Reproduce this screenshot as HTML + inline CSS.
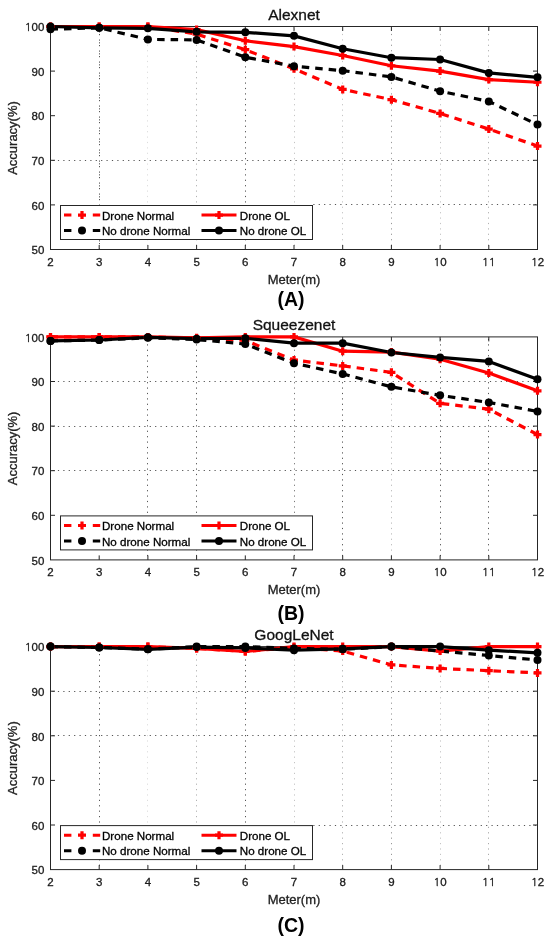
<!DOCTYPE html>
<html><head><meta charset="utf-8"><title>Accuracy vs Meter</title>
<style>html,body{margin:0;padding:0;background:#fff;}body{width:550px;height:948px;overflow:hidden;}svg{display:block;}text{font-family:'Liberation Sans', Arial, sans-serif;stroke:currentColor;stroke-width:0.3px;paint-order:stroke;}</style></head><body>
<svg width="550" height="948" viewBox="0 0 550 948">
<rect x="0" y="0" width="550" height="948" fill="#fff"/>
<path d="M99.5,28.5V249.5" stroke="#555" stroke-opacity="1" stroke-width="1" stroke-dasharray="1.2 1.55 1.2 1.55 1.2 4.3" fill="none"/>
<path d="M147.5,28.5V249.5" stroke="#555" stroke-opacity="0.2" stroke-width="1" stroke-dasharray="1.2 4.2" fill="none"/>
<path d="M196.5,28.5V249.5" stroke="#555" stroke-opacity="0.45" stroke-width="1" stroke-dasharray="1.2 4.2" fill="none"/>
<path d="M245.5,28.5V249.5" stroke="#555" stroke-opacity="1" stroke-width="1" stroke-dasharray="1.2 4.2" fill="none"/>
<path d="M294.5,28.5V249.5" stroke="#555" stroke-opacity="0.35" stroke-width="1" stroke-dasharray="1.2 4.2" fill="none"/>
<path d="M342.5,28.5V249.5" stroke="#555" stroke-opacity="0.35" stroke-width="1" stroke-dasharray="1.2 4.2" fill="none"/>
<path d="M391.5,28.5V249.5" stroke="#555" stroke-opacity="0.6" stroke-width="1" stroke-dasharray="1.2 4.2" fill="none"/>
<path d="M440.5,28.5V249.5" stroke="#555" stroke-opacity="0.35" stroke-width="1" stroke-dasharray="1.2 4.2" fill="none"/>
<path d="M488.5,28.5V249.5" stroke="#555" stroke-opacity="0.45" stroke-width="1" stroke-dasharray="1.2 4.2" fill="none"/>
<path d="M52.5,160.5H537.5" stroke="#555" stroke-opacity="1" stroke-width="1" stroke-dasharray="1.2 4.2" fill="none"/>
<path d="M313.3,204.5H537.5" stroke="#555" stroke-opacity="1" stroke-width="1" stroke-dasharray="1.2 4.2" fill="none"/>
<path d="M99.2,249.5v-4.5M99.2,26.5v4.5M147.9,249.5v-4.5M147.9,26.5v4.5M196.6,249.5v-4.5M196.6,26.5v4.5M245.3,249.5v-4.5M245.3,26.5v4.5M294,249.5v-4.5M294,26.5v4.5M342.7,249.5v-4.5M342.7,26.5v4.5M391.4,249.5v-4.5M391.4,26.5v4.5M440.1,249.5v-4.5M440.1,26.5v4.5M488.8,249.5v-4.5M488.8,26.5v4.5M50.5,71.1h4.5M537.5,71.1h-4.5M50.5,115.7h4.5M537.5,115.7h-4.5M50.5,160.3h4.5M537.5,160.3h-4.5M50.5,204.9h4.5M537.5,204.9h-4.5" stroke="#262626" stroke-width="1" fill="none"/>
<rect x="50.5" y="26.5" width="487" height="223" fill="none" stroke="#262626" stroke-width="1"/>
<polyline points="50.5,26.5 99.2,26.5 147.9,26.5 196.6,34.08 245.3,49.69 294,68.87 342.7,89.39 391.4,99.64 440.1,113.47 488.8,129.08 537.5,146.03" fill="none" stroke="#f00" stroke-width="3.2" stroke-dasharray="7.5 6" stroke-linejoin="round"/>
<polyline points="50.5,26.5 99.2,26.5 147.9,26.5 196.6,29.62 245.3,40.77 294,46.57 342.7,55.49 391.4,65.75 440.1,71.1 488.8,79.57 537.5,82.25" fill="none" stroke="#f00" stroke-width="3.2" stroke-linejoin="round"/>
<polyline points="50.5,29.18 99.2,27.84 147.9,39.43 196.6,39.88 245.3,57.27 294,66.19 342.7,70.65 391.4,76.9 440.1,91.17 488.8,101.43 537.5,124.62" fill="none" stroke="#000" stroke-width="3.2" stroke-dasharray="7.5 6" stroke-linejoin="round"/>
<polyline points="50.5,26.5 99.2,27.84 147.9,28.28 196.6,31.85 245.3,32.3 294,35.87 342.7,48.8 391.4,57.72 440.1,59.5 488.8,72.88 537.5,77.34" fill="none" stroke="#000" stroke-width="3.2" stroke-linejoin="round"/>
<path d="M46.5,26.5H54.5M50.5,22.5V30.5" stroke="#f00" stroke-width="3.2" fill="none"/>
<path d="M95.2,26.5H103.2M99.2,22.5V30.5" stroke="#f00" stroke-width="3.2" fill="none"/>
<path d="M143.9,26.5H151.9M147.9,22.5V30.5" stroke="#f00" stroke-width="3.2" fill="none"/>
<path d="M192.6,34.08H200.6M196.6,30.08V38.08" stroke="#f00" stroke-width="3.2" fill="none"/>
<path d="M241.3,49.69H249.3M245.3,45.69V53.69" stroke="#f00" stroke-width="3.2" fill="none"/>
<path d="M290,68.87H298M294,64.87V72.87" stroke="#f00" stroke-width="3.2" fill="none"/>
<path d="M338.7,89.39H346.7M342.7,85.39V93.39" stroke="#f00" stroke-width="3.2" fill="none"/>
<path d="M387.4,99.64H395.4M391.4,95.64V103.64" stroke="#f00" stroke-width="3.2" fill="none"/>
<path d="M436.1,113.47H444.1M440.1,109.47V117.47" stroke="#f00" stroke-width="3.2" fill="none"/>
<path d="M484.8,129.08H492.8M488.8,125.08V133.08" stroke="#f00" stroke-width="3.2" fill="none"/>
<path d="M533.5,146.03H541.5M537.5,142.03V150.03" stroke="#f00" stroke-width="3.2" fill="none"/>
<path d="M46.5,26.5H54.5M50.5,22.5V30.5" stroke="#f00" stroke-width="3.2" fill="none"/>
<path d="M95.2,26.5H103.2M99.2,22.5V30.5" stroke="#f00" stroke-width="3.2" fill="none"/>
<path d="M143.9,26.5H151.9M147.9,22.5V30.5" stroke="#f00" stroke-width="3.2" fill="none"/>
<path d="M192.6,29.62H200.6M196.6,25.62V33.62" stroke="#f00" stroke-width="3.2" fill="none"/>
<path d="M241.3,40.77H249.3M245.3,36.77V44.77" stroke="#f00" stroke-width="3.2" fill="none"/>
<path d="M290,46.57H298M294,42.57V50.57" stroke="#f00" stroke-width="3.2" fill="none"/>
<path d="M338.7,55.49H346.7M342.7,51.49V59.49" stroke="#f00" stroke-width="3.2" fill="none"/>
<path d="M387.4,65.75H395.4M391.4,61.75V69.75" stroke="#f00" stroke-width="3.2" fill="none"/>
<path d="M436.1,71.1H444.1M440.1,67.1V75.1" stroke="#f00" stroke-width="3.2" fill="none"/>
<path d="M484.8,79.57H492.8M488.8,75.57V83.57" stroke="#f00" stroke-width="3.2" fill="none"/>
<path d="M533.5,82.25H541.5M537.5,78.25V86.25" stroke="#f00" stroke-width="3.2" fill="none"/>
<circle cx="50.5" cy="29.18" r="4" fill="#000"/>
<circle cx="99.2" cy="27.84" r="4" fill="#000"/>
<circle cx="147.9" cy="39.43" r="4" fill="#000"/>
<circle cx="196.6" cy="39.88" r="4" fill="#000"/>
<circle cx="245.3" cy="57.27" r="4" fill="#000"/>
<circle cx="294" cy="66.19" r="4" fill="#000"/>
<circle cx="342.7" cy="70.65" r="4" fill="#000"/>
<circle cx="391.4" cy="76.9" r="4" fill="#000"/>
<circle cx="440.1" cy="91.17" r="4" fill="#000"/>
<circle cx="488.8" cy="101.43" r="4" fill="#000"/>
<circle cx="537.5" cy="124.62" r="4" fill="#000"/>
<circle cx="50.5" cy="26.5" r="4" fill="#000"/>
<circle cx="99.2" cy="27.84" r="4" fill="#000"/>
<circle cx="147.9" cy="28.28" r="4" fill="#000"/>
<circle cx="196.6" cy="31.85" r="4" fill="#000"/>
<circle cx="245.3" cy="32.3" r="4" fill="#000"/>
<circle cx="294" cy="35.87" r="4" fill="#000"/>
<circle cx="342.7" cy="48.8" r="4" fill="#000"/>
<circle cx="391.4" cy="57.72" r="4" fill="#000"/>
<circle cx="440.1" cy="59.5" r="4" fill="#000"/>
<circle cx="488.8" cy="72.88" r="4" fill="#000"/>
<circle cx="537.5" cy="77.34" r="4" fill="#000"/>
<text x="44.3" y="31.2" font-size="11.5" text-anchor="end" fill="#1a1a1a" color="#1a1a1a"><tspan font-family="NanumGothic, 'Liberation Sans', sans-serif" font-size="11.2">1</tspan>00</text>
<text x="44.3" y="75.8" font-size="11.5" text-anchor="end" fill="#1a1a1a" color="#1a1a1a">90</text>
<text x="44.3" y="120.4" font-size="11.5" text-anchor="end" fill="#1a1a1a" color="#1a1a1a">80</text>
<text x="44.3" y="165" font-size="11.5" text-anchor="end" fill="#1a1a1a" color="#1a1a1a">70</text>
<text x="44.3" y="209.6" font-size="11.5" text-anchor="end" fill="#1a1a1a" color="#1a1a1a">60</text>
<text x="44.3" y="254.2" font-size="11.5" text-anchor="end" fill="#1a1a1a" color="#1a1a1a">50</text>
<text x="50.5" y="266" font-size="11.5" text-anchor="middle" fill="#1a1a1a" color="#1a1a1a">2</text>
<text x="99.2" y="266" font-size="11.5" text-anchor="middle" fill="#1a1a1a" color="#1a1a1a">3</text>
<text x="147.9" y="266" font-size="11.5" text-anchor="middle" fill="#1a1a1a" color="#1a1a1a">4</text>
<text x="196.6" y="266" font-size="11.5" text-anchor="middle" fill="#1a1a1a" color="#1a1a1a">5</text>
<text x="245.3" y="266" font-size="11.5" text-anchor="middle" fill="#1a1a1a" color="#1a1a1a">6</text>
<text x="294" y="266" font-size="11.5" text-anchor="middle" fill="#1a1a1a" color="#1a1a1a">7</text>
<text x="342.7" y="266" font-size="11.5" text-anchor="middle" fill="#1a1a1a" color="#1a1a1a">8</text>
<text x="391.4" y="266" font-size="11.5" text-anchor="middle" fill="#1a1a1a" color="#1a1a1a">9</text>
<text x="440.1" y="266" font-size="11.5" text-anchor="middle" fill="#1a1a1a" color="#1a1a1a"><tspan font-family="NanumGothic, 'Liberation Sans', sans-serif" font-size="11.2">1</tspan>0</text>
<text x="488.8" y="266" font-size="11.5" text-anchor="middle" fill="#1a1a1a" color="#1a1a1a"><tspan font-family="NanumGothic, 'Liberation Sans', sans-serif" font-size="11.2">1</tspan><tspan font-family="NanumGothic, 'Liberation Sans', sans-serif" font-size="11.2">1</tspan></text>
<text x="537.5" y="266" font-size="11.5" text-anchor="middle" fill="#1a1a1a" color="#1a1a1a"><tspan font-family="NanumGothic, 'Liberation Sans', sans-serif" font-size="11.2">1</tspan>2</text>
<text x="294" y="19.7" font-size="15.5" text-anchor="middle" fill="#111" color="#111">Alexnet</text>
<text x="294" y="283.9" font-size="13" text-anchor="middle" fill="#222" color="#222">Meter(m)</text>
<text transform="translate(17.3,138) rotate(-90)" font-size="13" text-anchor="middle" fill="#222" color="#222">Accuracy(%)</text>
<text x="291" y="306.2" font-size="19.5" font-weight="bold" text-anchor="middle" style="stroke-width:0" fill="#000" color="#000">(A)</text>
<rect x="60.5" y="205.5" width="252" height="34" fill="#fff" stroke="#262626" stroke-width="1"/>
<path d="M64,215.1H100.7" stroke="#f00" stroke-width="3" stroke-dasharray="7.4 21.4" fill="none"/>
<path d="M78,215.1H86M82,211.1V219.1" stroke="#f00" stroke-width="3.2" fill="none"/>
<path d="M64,230.6H100.7" stroke="#000" stroke-width="3" stroke-dasharray="7.4 21.4" fill="none"/>
<circle cx="82" cy="230.6" r="4" fill="#000"/>
<text x="102" y="219.6" font-size="11.6" fill="#000" color="#000">Drone Normal</text>
<text x="102" y="235.1" font-size="11.6" fill="#000" color="#000">No drone Normal</text>
<path d="M201.5,215.1H236.5" stroke="#f00" stroke-width="3" fill="none"/>
<path d="M215,215.1H223M219,211.1V219.1" stroke="#f00" stroke-width="3.2" fill="none"/>
<path d="M201.5,230.6H236.5" stroke="#000" stroke-width="3" fill="none"/>
<circle cx="219" cy="230.6" r="4" fill="#000"/>
<text x="239.8" y="219.6" font-size="11.6" fill="#000" color="#000">Drone OL</text>
<text x="239.8" y="235.1" font-size="11.6" fill="#000" color="#000">No drone OL</text>
<path d="M147.5,338.9V559.9" stroke="#555" stroke-opacity="1" stroke-width="1" stroke-dasharray="1.2 4.2" fill="none"/>
<path d="M196.5,338.9V559.9" stroke="#555" stroke-opacity="1" stroke-width="1" stroke-dasharray="1.2 4.2" fill="none"/>
<path d="M294.5,338.9V559.9" stroke="#555" stroke-opacity="0.8" stroke-width="1" stroke-dasharray="1.2 4.2" fill="none"/>
<path d="M342.5,338.9V559.9" stroke="#555" stroke-opacity="1" stroke-width="1" stroke-dasharray="1.2 4.2" fill="none"/>
<path d="M391.5,338.9V559.9" stroke="#555" stroke-opacity="0.4" stroke-width="1" stroke-dasharray="1.2 4.2" fill="none"/>
<path d="M440.5,338.9V559.9" stroke="#555" stroke-opacity="1" stroke-width="1" stroke-dasharray="1.2 4.2" fill="none"/>
<path d="M488.5,338.9V559.9" stroke="#555" stroke-opacity="1" stroke-width="1" stroke-dasharray="1.2 4.2" fill="none"/>
<path d="M52.5,381.5H537.5" stroke="#555" stroke-opacity="1" stroke-width="1" stroke-dasharray="1.2 4.2" fill="none"/>
<path d="M52.5,426.5H537.5" stroke="#555" stroke-opacity="1" stroke-width="1" stroke-dasharray="1.2 4.2" fill="none"/>
<path d="M52.5,470.5H537.5" stroke="#555" stroke-opacity="1" stroke-width="1" stroke-dasharray="1.2 4.2" fill="none"/>
<path d="M99.2,559.9v-4.5M99.2,336.9v4.5M147.9,559.9v-4.5M147.9,336.9v4.5M196.6,559.9v-4.5M196.6,336.9v4.5M245.3,559.9v-4.5M245.3,336.9v4.5M294,559.9v-4.5M294,336.9v4.5M342.7,559.9v-4.5M342.7,336.9v4.5M391.4,559.9v-4.5M391.4,336.9v4.5M440.1,559.9v-4.5M440.1,336.9v4.5M488.8,559.9v-4.5M488.8,336.9v4.5M50.5,381.5h4.5M537.5,381.5h-4.5M50.5,426.1h4.5M537.5,426.1h-4.5M50.5,470.7h4.5M537.5,470.7h-4.5M50.5,515.3h4.5M537.5,515.3h-4.5" stroke="#262626" stroke-width="1" fill="none"/>
<rect x="50.5" y="336.9" width="487" height="223" fill="none" stroke="#262626" stroke-width="1"/>
<polyline points="50.5,336.9 99.2,336.9 147.9,336.9 196.6,338.24 245.3,340.47 294,360.09 342.7,365.89 391.4,372.36 440.1,403.35 488.8,409.15 537.5,434.57" fill="none" stroke="#f00" stroke-width="3.2" stroke-dasharray="7.5 6" stroke-linejoin="round"/>
<polyline points="50.5,336.9 99.2,336.9 147.9,336.9 196.6,337.79 245.3,336.9 294,336.9 342.7,351.17 391.4,352.06 440.1,359.2 488.8,373.03 537.5,390.87" fill="none" stroke="#f00" stroke-width="3.2" stroke-linejoin="round"/>
<polyline points="50.5,340.91 99.2,340.02 147.9,337.79 196.6,339.58 245.3,344.04 294,363.21 342.7,373.92 391.4,386.85 440.1,395.33 488.8,402.46 537.5,411.38" fill="none" stroke="#000" stroke-width="3.2" stroke-dasharray="7.5 6" stroke-linejoin="round"/>
<polyline points="50.5,340.91 99.2,340.02 147.9,337.35 196.6,338.68 245.3,338.24 294,343.14 342.7,343.14 391.4,352.51 440.1,357.42 488.8,361.43 537.5,379.27" fill="none" stroke="#000" stroke-width="3.2" stroke-linejoin="round"/>
<path d="M46.5,336.9H54.5M50.5,332.9V340.9" stroke="#f00" stroke-width="3.2" fill="none"/>
<path d="M95.2,336.9H103.2M99.2,332.9V340.9" stroke="#f00" stroke-width="3.2" fill="none"/>
<path d="M143.9,336.9H151.9M147.9,332.9V340.9" stroke="#f00" stroke-width="3.2" fill="none"/>
<path d="M192.6,338.24H200.6M196.6,334.24V342.24" stroke="#f00" stroke-width="3.2" fill="none"/>
<path d="M241.3,340.47H249.3M245.3,336.47V344.47" stroke="#f00" stroke-width="3.2" fill="none"/>
<path d="M290,360.09H298M294,356.09V364.09" stroke="#f00" stroke-width="3.2" fill="none"/>
<path d="M338.7,365.89H346.7M342.7,361.89V369.89" stroke="#f00" stroke-width="3.2" fill="none"/>
<path d="M387.4,372.36H395.4M391.4,368.36V376.36" stroke="#f00" stroke-width="3.2" fill="none"/>
<path d="M436.1,403.35H444.1M440.1,399.35V407.35" stroke="#f00" stroke-width="3.2" fill="none"/>
<path d="M484.8,409.15H492.8M488.8,405.15V413.15" stroke="#f00" stroke-width="3.2" fill="none"/>
<path d="M533.5,434.57H541.5M537.5,430.57V438.57" stroke="#f00" stroke-width="3.2" fill="none"/>
<path d="M46.5,336.9H54.5M50.5,332.9V340.9" stroke="#f00" stroke-width="3.2" fill="none"/>
<path d="M95.2,336.9H103.2M99.2,332.9V340.9" stroke="#f00" stroke-width="3.2" fill="none"/>
<path d="M143.9,336.9H151.9M147.9,332.9V340.9" stroke="#f00" stroke-width="3.2" fill="none"/>
<path d="M192.6,337.79H200.6M196.6,333.79V341.79" stroke="#f00" stroke-width="3.2" fill="none"/>
<path d="M241.3,336.9H249.3M245.3,332.9V340.9" stroke="#f00" stroke-width="3.2" fill="none"/>
<path d="M290,336.9H298M294,332.9V340.9" stroke="#f00" stroke-width="3.2" fill="none"/>
<path d="M338.7,351.17H346.7M342.7,347.17V355.17" stroke="#f00" stroke-width="3.2" fill="none"/>
<path d="M387.4,352.06H395.4M391.4,348.06V356.06" stroke="#f00" stroke-width="3.2" fill="none"/>
<path d="M436.1,359.2H444.1M440.1,355.2V363.2" stroke="#f00" stroke-width="3.2" fill="none"/>
<path d="M484.8,373.03H492.8M488.8,369.03V377.03" stroke="#f00" stroke-width="3.2" fill="none"/>
<path d="M533.5,390.87H541.5M537.5,386.87V394.87" stroke="#f00" stroke-width="3.2" fill="none"/>
<circle cx="50.5" cy="340.91" r="4" fill="#000"/>
<circle cx="99.2" cy="340.02" r="4" fill="#000"/>
<circle cx="147.9" cy="337.79" r="4" fill="#000"/>
<circle cx="196.6" cy="339.58" r="4" fill="#000"/>
<circle cx="245.3" cy="344.04" r="4" fill="#000"/>
<circle cx="294" cy="363.21" r="4" fill="#000"/>
<circle cx="342.7" cy="373.92" r="4" fill="#000"/>
<circle cx="391.4" cy="386.85" r="4" fill="#000"/>
<circle cx="440.1" cy="395.33" r="4" fill="#000"/>
<circle cx="488.8" cy="402.46" r="4" fill="#000"/>
<circle cx="537.5" cy="411.38" r="4" fill="#000"/>
<circle cx="50.5" cy="340.91" r="4" fill="#000"/>
<circle cx="99.2" cy="340.02" r="4" fill="#000"/>
<circle cx="147.9" cy="337.35" r="4" fill="#000"/>
<circle cx="196.6" cy="338.68" r="4" fill="#000"/>
<circle cx="245.3" cy="338.24" r="4" fill="#000"/>
<circle cx="294" cy="343.14" r="4" fill="#000"/>
<circle cx="342.7" cy="343.14" r="4" fill="#000"/>
<circle cx="391.4" cy="352.51" r="4" fill="#000"/>
<circle cx="440.1" cy="357.42" r="4" fill="#000"/>
<circle cx="488.8" cy="361.43" r="4" fill="#000"/>
<circle cx="537.5" cy="379.27" r="4" fill="#000"/>
<text x="44.3" y="341.6" font-size="11.5" text-anchor="end" fill="#1a1a1a" color="#1a1a1a"><tspan font-family="NanumGothic, 'Liberation Sans', sans-serif" font-size="11.2">1</tspan>00</text>
<text x="44.3" y="386.2" font-size="11.5" text-anchor="end" fill="#1a1a1a" color="#1a1a1a">90</text>
<text x="44.3" y="430.8" font-size="11.5" text-anchor="end" fill="#1a1a1a" color="#1a1a1a">80</text>
<text x="44.3" y="475.4" font-size="11.5" text-anchor="end" fill="#1a1a1a" color="#1a1a1a">70</text>
<text x="44.3" y="520" font-size="11.5" text-anchor="end" fill="#1a1a1a" color="#1a1a1a">60</text>
<text x="44.3" y="564.6" font-size="11.5" text-anchor="end" fill="#1a1a1a" color="#1a1a1a">50</text>
<text x="50.5" y="576.4" font-size="11.5" text-anchor="middle" fill="#1a1a1a" color="#1a1a1a">2</text>
<text x="99.2" y="576.4" font-size="11.5" text-anchor="middle" fill="#1a1a1a" color="#1a1a1a">3</text>
<text x="147.9" y="576.4" font-size="11.5" text-anchor="middle" fill="#1a1a1a" color="#1a1a1a">4</text>
<text x="196.6" y="576.4" font-size="11.5" text-anchor="middle" fill="#1a1a1a" color="#1a1a1a">5</text>
<text x="245.3" y="576.4" font-size="11.5" text-anchor="middle" fill="#1a1a1a" color="#1a1a1a">6</text>
<text x="294" y="576.4" font-size="11.5" text-anchor="middle" fill="#1a1a1a" color="#1a1a1a">7</text>
<text x="342.7" y="576.4" font-size="11.5" text-anchor="middle" fill="#1a1a1a" color="#1a1a1a">8</text>
<text x="391.4" y="576.4" font-size="11.5" text-anchor="middle" fill="#1a1a1a" color="#1a1a1a">9</text>
<text x="440.1" y="576.4" font-size="11.5" text-anchor="middle" fill="#1a1a1a" color="#1a1a1a"><tspan font-family="NanumGothic, 'Liberation Sans', sans-serif" font-size="11.2">1</tspan>0</text>
<text x="488.8" y="576.4" font-size="11.5" text-anchor="middle" fill="#1a1a1a" color="#1a1a1a"><tspan font-family="NanumGothic, 'Liberation Sans', sans-serif" font-size="11.2">1</tspan><tspan font-family="NanumGothic, 'Liberation Sans', sans-serif" font-size="11.2">1</tspan></text>
<text x="537.5" y="576.4" font-size="11.5" text-anchor="middle" fill="#1a1a1a" color="#1a1a1a"><tspan font-family="NanumGothic, 'Liberation Sans', sans-serif" font-size="11.2">1</tspan>2</text>
<text x="294" y="330.1" font-size="15.5" text-anchor="middle" fill="#111" color="#111">Squeezenet</text>
<text x="294" y="594.3" font-size="13" text-anchor="middle" fill="#222" color="#222">Meter(m)</text>
<text transform="translate(17.3,448.4) rotate(-90)" font-size="13" text-anchor="middle" fill="#222" color="#222">Accuracy(%)</text>
<text x="291" y="620" font-size="19.5" font-weight="bold" text-anchor="middle" style="stroke-width:0" fill="#000" color="#000">(B)</text>
<rect x="60.5" y="515.9" width="252" height="34" fill="#fff" stroke="#262626" stroke-width="1"/>
<path d="M64,525.5H100.7" stroke="#f00" stroke-width="3" stroke-dasharray="7.4 21.4" fill="none"/>
<path d="M78,525.5H86M82,521.5V529.5" stroke="#f00" stroke-width="3.2" fill="none"/>
<path d="M64,541H100.7" stroke="#000" stroke-width="3" stroke-dasharray="7.4 21.4" fill="none"/>
<circle cx="82" cy="541" r="4" fill="#000"/>
<text x="102" y="530" font-size="11.6" fill="#000" color="#000">Drone Normal</text>
<text x="102" y="545.5" font-size="11.6" fill="#000" color="#000">No drone Normal</text>
<path d="M201.5,525.5H236.5" stroke="#f00" stroke-width="3" fill="none"/>
<path d="M215,525.5H223M219,521.5V529.5" stroke="#f00" stroke-width="3.2" fill="none"/>
<path d="M201.5,541H236.5" stroke="#000" stroke-width="3" fill="none"/>
<circle cx="219" cy="541" r="4" fill="#000"/>
<text x="239.8" y="530" font-size="11.6" fill="#000" color="#000">Drone OL</text>
<text x="239.8" y="545.5" font-size="11.6" fill="#000" color="#000">No drone OL</text>
<path d="M99.5,648.6V869.6" stroke="#555" stroke-opacity="1" stroke-width="1" stroke-dasharray="1.2 4.2" fill="none"/>
<path d="M147.5,648.6V869.6" stroke="#555" stroke-opacity="0.2" stroke-width="1" stroke-dasharray="1.2 4.2" fill="none"/>
<path d="M196.5,648.6V869.6" stroke="#555" stroke-opacity="0.45" stroke-width="1" stroke-dasharray="1.2 4.2" fill="none"/>
<path d="M245.5,648.6V869.6" stroke="#555" stroke-opacity="1" stroke-width="1" stroke-dasharray="1.2 4.2" fill="none"/>
<path d="M294.5,648.6V869.6" stroke="#555" stroke-opacity="0.35" stroke-width="1" stroke-dasharray="1.2 4.2" fill="none"/>
<path d="M342.5,648.6V869.6" stroke="#555" stroke-opacity="0.45" stroke-width="1" stroke-dasharray="1.2 4.2" fill="none"/>
<path d="M391.5,648.6V869.6" stroke="#555" stroke-opacity="0.6" stroke-width="1" stroke-dasharray="1.2 4.2" fill="none"/>
<path d="M440.5,648.6V869.6" stroke="#555" stroke-opacity="0.35" stroke-width="1" stroke-dasharray="1.2 4.2" fill="none"/>
<path d="M488.5,648.6V869.6" stroke="#555" stroke-opacity="0.5" stroke-width="1" stroke-dasharray="1.2 4.2" fill="none"/>
<path d="M52.5,691.5H537.5" stroke="#555" stroke-opacity="1" stroke-width="1" stroke-dasharray="1.2 4.2" fill="none"/>
<path d="M52.5,735.5H537.5" stroke="#555" stroke-opacity="1" stroke-width="1" stroke-dasharray="1.2 4.2" fill="none"/>
<path d="M313.3,825.5H537.5" stroke="#555" stroke-opacity="1" stroke-width="1" stroke-dasharray="1.2 4.2" fill="none"/>
<path d="M99.2,869.6v-4.5M99.2,646.6v4.5M147.9,869.6v-4.5M147.9,646.6v4.5M196.6,869.6v-4.5M196.6,646.6v4.5M245.3,869.6v-4.5M245.3,646.6v4.5M294,869.6v-4.5M294,646.6v4.5M342.7,869.6v-4.5M342.7,646.6v4.5M391.4,869.6v-4.5M391.4,646.6v4.5M440.1,869.6v-4.5M440.1,646.6v4.5M488.8,869.6v-4.5M488.8,646.6v4.5M50.5,691.2h4.5M537.5,691.2h-4.5M50.5,735.8h4.5M537.5,735.8h-4.5M50.5,780.4h4.5M537.5,780.4h-4.5M50.5,825h4.5M537.5,825h-4.5" stroke="#262626" stroke-width="1" fill="none"/>
<rect x="50.5" y="646.6" width="487" height="223" fill="none" stroke="#262626" stroke-width="1"/>
<polyline points="50.5,646.6 99.2,646.6 147.9,646.6 196.6,648.38 245.3,651.51 294,647.49 342.7,651.06 391.4,664.89 440.1,668.45 488.8,670.68 537.5,672.91" fill="none" stroke="#f00" stroke-width="3.2" stroke-dasharray="7.5 6" stroke-linejoin="round"/>
<polyline points="50.5,646.6 99.2,646.6 147.9,646.6 196.6,648.38 245.3,651.51 294,646.6 342.7,646.6 391.4,646.6 440.1,651.06 488.8,646.6 537.5,646.6" fill="none" stroke="#f00" stroke-width="3.2" stroke-linejoin="round"/>
<polyline points="50.5,646.6 99.2,647.49 147.9,649.28 196.6,646.6 245.3,646.6 294,648.38 342.7,649.28 391.4,646.6 440.1,651.06 488.8,655.52 537.5,659.98" fill="none" stroke="#000" stroke-width="3.2" stroke-dasharray="7.5 6" stroke-linejoin="round"/>
<polyline points="50.5,646.6 99.2,647.49 147.9,649.28 196.6,647.05 245.3,647.94 294,650.17 342.7,648.83 391.4,646.6 440.1,646.6 488.8,650.17 537.5,652.84" fill="none" stroke="#000" stroke-width="3.2" stroke-linejoin="round"/>
<path d="M46.5,646.6H54.5M50.5,642.6V650.6" stroke="#f00" stroke-width="3.2" fill="none"/>
<path d="M95.2,646.6H103.2M99.2,642.6V650.6" stroke="#f00" stroke-width="3.2" fill="none"/>
<path d="M143.9,646.6H151.9M147.9,642.6V650.6" stroke="#f00" stroke-width="3.2" fill="none"/>
<path d="M192.6,648.38H200.6M196.6,644.38V652.38" stroke="#f00" stroke-width="3.2" fill="none"/>
<path d="M241.3,651.51H249.3M245.3,647.51V655.51" stroke="#f00" stroke-width="3.2" fill="none"/>
<path d="M290,647.49H298M294,643.49V651.49" stroke="#f00" stroke-width="3.2" fill="none"/>
<path d="M338.7,651.06H346.7M342.7,647.06V655.06" stroke="#f00" stroke-width="3.2" fill="none"/>
<path d="M387.4,664.89H395.4M391.4,660.89V668.89" stroke="#f00" stroke-width="3.2" fill="none"/>
<path d="M436.1,668.45H444.1M440.1,664.45V672.45" stroke="#f00" stroke-width="3.2" fill="none"/>
<path d="M484.8,670.68H492.8M488.8,666.68V674.68" stroke="#f00" stroke-width="3.2" fill="none"/>
<path d="M533.5,672.91H541.5M537.5,668.91V676.91" stroke="#f00" stroke-width="3.2" fill="none"/>
<path d="M46.5,646.6H54.5M50.5,642.6V650.6" stroke="#f00" stroke-width="3.2" fill="none"/>
<path d="M95.2,646.6H103.2M99.2,642.6V650.6" stroke="#f00" stroke-width="3.2" fill="none"/>
<path d="M143.9,646.6H151.9M147.9,642.6V650.6" stroke="#f00" stroke-width="3.2" fill="none"/>
<path d="M192.6,648.38H200.6M196.6,644.38V652.38" stroke="#f00" stroke-width="3.2" fill="none"/>
<path d="M241.3,651.51H249.3M245.3,647.51V655.51" stroke="#f00" stroke-width="3.2" fill="none"/>
<path d="M290,646.6H298M294,642.6V650.6" stroke="#f00" stroke-width="3.2" fill="none"/>
<path d="M338.7,646.6H346.7M342.7,642.6V650.6" stroke="#f00" stroke-width="3.2" fill="none"/>
<path d="M387.4,646.6H395.4M391.4,642.6V650.6" stroke="#f00" stroke-width="3.2" fill="none"/>
<path d="M436.1,651.06H444.1M440.1,647.06V655.06" stroke="#f00" stroke-width="3.2" fill="none"/>
<path d="M484.8,646.6H492.8M488.8,642.6V650.6" stroke="#f00" stroke-width="3.2" fill="none"/>
<path d="M533.5,646.6H541.5M537.5,642.6V650.6" stroke="#f00" stroke-width="3.2" fill="none"/>
<circle cx="50.5" cy="646.6" r="4" fill="#000"/>
<circle cx="99.2" cy="647.49" r="4" fill="#000"/>
<circle cx="147.9" cy="649.28" r="4" fill="#000"/>
<circle cx="196.6" cy="646.6" r="4" fill="#000"/>
<circle cx="245.3" cy="646.6" r="4" fill="#000"/>
<circle cx="294" cy="648.38" r="4" fill="#000"/>
<circle cx="342.7" cy="649.28" r="4" fill="#000"/>
<circle cx="391.4" cy="646.6" r="4" fill="#000"/>
<circle cx="488.8" cy="655.52" r="4" fill="#000"/>
<circle cx="537.5" cy="659.98" r="4" fill="#000"/>
<circle cx="50.5" cy="646.6" r="4" fill="#000"/>
<circle cx="99.2" cy="647.49" r="4" fill="#000"/>
<circle cx="147.9" cy="649.28" r="4" fill="#000"/>
<circle cx="196.6" cy="647.05" r="4" fill="#000"/>
<circle cx="245.3" cy="647.94" r="4" fill="#000"/>
<circle cx="294" cy="650.17" r="4" fill="#000"/>
<circle cx="342.7" cy="648.83" r="4" fill="#000"/>
<circle cx="391.4" cy="646.6" r="4" fill="#000"/>
<circle cx="440.1" cy="646.6" r="4" fill="#000"/>
<circle cx="488.8" cy="650.17" r="4" fill="#000"/>
<circle cx="537.5" cy="652.84" r="4" fill="#000"/>
<text x="44.3" y="651.3" font-size="11.5" text-anchor="end" fill="#1a1a1a" color="#1a1a1a"><tspan font-family="NanumGothic, 'Liberation Sans', sans-serif" font-size="11.2">1</tspan>00</text>
<text x="44.3" y="695.9" font-size="11.5" text-anchor="end" fill="#1a1a1a" color="#1a1a1a">90</text>
<text x="44.3" y="740.5" font-size="11.5" text-anchor="end" fill="#1a1a1a" color="#1a1a1a">80</text>
<text x="44.3" y="785.1" font-size="11.5" text-anchor="end" fill="#1a1a1a" color="#1a1a1a">70</text>
<text x="44.3" y="829.7" font-size="11.5" text-anchor="end" fill="#1a1a1a" color="#1a1a1a">60</text>
<text x="44.3" y="874.3" font-size="11.5" text-anchor="end" fill="#1a1a1a" color="#1a1a1a">50</text>
<text x="50.5" y="886.1" font-size="11.5" text-anchor="middle" fill="#1a1a1a" color="#1a1a1a">2</text>
<text x="99.2" y="886.1" font-size="11.5" text-anchor="middle" fill="#1a1a1a" color="#1a1a1a">3</text>
<text x="147.9" y="886.1" font-size="11.5" text-anchor="middle" fill="#1a1a1a" color="#1a1a1a">4</text>
<text x="196.6" y="886.1" font-size="11.5" text-anchor="middle" fill="#1a1a1a" color="#1a1a1a">5</text>
<text x="245.3" y="886.1" font-size="11.5" text-anchor="middle" fill="#1a1a1a" color="#1a1a1a">6</text>
<text x="294" y="886.1" font-size="11.5" text-anchor="middle" fill="#1a1a1a" color="#1a1a1a">7</text>
<text x="342.7" y="886.1" font-size="11.5" text-anchor="middle" fill="#1a1a1a" color="#1a1a1a">8</text>
<text x="391.4" y="886.1" font-size="11.5" text-anchor="middle" fill="#1a1a1a" color="#1a1a1a">9</text>
<text x="440.1" y="886.1" font-size="11.5" text-anchor="middle" fill="#1a1a1a" color="#1a1a1a"><tspan font-family="NanumGothic, 'Liberation Sans', sans-serif" font-size="11.2">1</tspan>0</text>
<text x="488.8" y="886.1" font-size="11.5" text-anchor="middle" fill="#1a1a1a" color="#1a1a1a"><tspan font-family="NanumGothic, 'Liberation Sans', sans-serif" font-size="11.2">1</tspan><tspan font-family="NanumGothic, 'Liberation Sans', sans-serif" font-size="11.2">1</tspan></text>
<text x="537.5" y="886.1" font-size="11.5" text-anchor="middle" fill="#1a1a1a" color="#1a1a1a"><tspan font-family="NanumGothic, 'Liberation Sans', sans-serif" font-size="11.2">1</tspan>2</text>
<text x="294" y="639.8" font-size="15.5" text-anchor="middle" fill="#111" color="#111">GoogLeNet</text>
<text x="294" y="904" font-size="13" text-anchor="middle" fill="#222" color="#222">Meter(m)</text>
<text transform="translate(17.3,758.1) rotate(-90)" font-size="13" text-anchor="middle" fill="#222" color="#222">Accuracy(%)</text>
<text x="291" y="932.4" font-size="19.5" font-weight="bold" text-anchor="middle" style="stroke-width:0" fill="#000" color="#000">(C)</text>
<rect x="60.5" y="825.6" width="252" height="34" fill="#fff" stroke="#262626" stroke-width="1"/>
<path d="M64,835.2H100.7" stroke="#f00" stroke-width="3" stroke-dasharray="7.4 21.4" fill="none"/>
<path d="M78,835.2H86M82,831.2V839.2" stroke="#f00" stroke-width="3.2" fill="none"/>
<path d="M64,850.7H100.7" stroke="#000" stroke-width="3" stroke-dasharray="7.4 21.4" fill="none"/>
<circle cx="82" cy="850.7" r="4" fill="#000"/>
<text x="102" y="839.7" font-size="11.6" fill="#000" color="#000">Drone Normal</text>
<text x="102" y="855.2" font-size="11.6" fill="#000" color="#000">No drone Normal</text>
<path d="M201.5,835.2H236.5" stroke="#f00" stroke-width="3" fill="none"/>
<path d="M215,835.2H223M219,831.2V839.2" stroke="#f00" stroke-width="3.2" fill="none"/>
<path d="M201.5,850.7H236.5" stroke="#000" stroke-width="3" fill="none"/>
<circle cx="219" cy="850.7" r="4" fill="#000"/>
<text x="239.8" y="839.7" font-size="11.6" fill="#000" color="#000">Drone OL</text>
<text x="239.8" y="855.2" font-size="11.6" fill="#000" color="#000">No drone OL</text>
</svg></body></html>
